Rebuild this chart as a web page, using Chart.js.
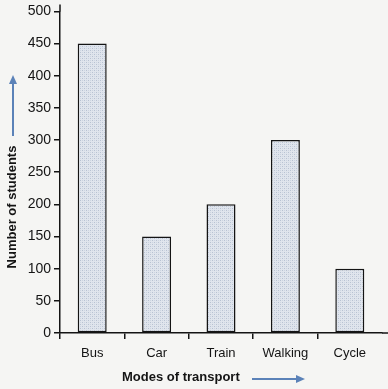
<!DOCTYPE html>
<html><head><meta charset="utf-8">
<script src="https://cdn.jsdelivr.net/npm/chart.js@4"></script>
<style>html,body{margin:0;padding:0;background:#f5f5f3;}#wrap{width:388px;height:389px;}</style>
</head><body><div id="wrap"><canvas id="c" width="388" height="389"></canvas></div>
<script>
const categories = ['Bus', 'Car', 'Train', 'Walking', 'Cycle'];
const students = [450, 150, 200, 300, 100];
const yTicks = [0, 50, 100, 150, 200, 250, 300, 350, 400, 450, 500];
const xTitle = 'Modes of transport';
const yTitle = 'Number of students';

function makePattern() {
  const p = document.createElement('canvas');
  p.width = 4; p.height = 4;
  const g = p.getContext('2d');
  g.fillStyle = '#e0e5ed'; g.fillRect(0, 0, 4, 4);
  g.fillStyle = '#b8c2d2';
  g.fillRect(0, 0, 1, 1); g.fillRect(2, 2, 1, 1);
  g.fillStyle = '#cdd5e1';
  g.fillRect(2, 0, 1, 1); g.fillRect(0, 2, 1, 1);
  return g.createPattern(p, 'repeat');
}

const INK = '#141414';
const BLUE = '#5b82b8';
const FONT = '"Liberation Sans", Arial, sans-serif';

function arrow(ctx, x1, y1, x2, y2) {
  const ang = Math.atan2(y2 - y1, x2 - x1);
  ctx.save();
  ctx.strokeStyle = BLUE; ctx.fillStyle = BLUE; ctx.lineWidth = 2;
  ctx.beginPath(); ctx.moveTo(x1, y1);
  ctx.lineTo(x2 - 6 * Math.cos(ang), y2 - 6 * Math.sin(ang)); ctx.stroke();
  ctx.beginPath(); ctx.moveTo(x2, y2);
  ctx.lineTo(x2 - 9 * Math.cos(ang) + 4 * Math.sin(ang), y2 - 9 * Math.sin(ang) - 4 * Math.cos(ang));
  ctx.lineTo(x2 - 9 * Math.cos(ang) - 4 * Math.sin(ang), y2 - 9 * Math.sin(ang) + 4 * Math.cos(ang));
  ctx.closePath(); ctx.fill();
  ctx.restore();
}

const decor = {
  id: 'decor',
  afterDraw(chart) {
    const ctx = chart.ctx;
    const area = chart.chartArea;
    ctx.save();
    ctx.fillStyle = INK;
    ctx.font = 'bold 13px ' + FONT;
    ctx.textBaseline = 'middle';
    ctx.textAlign = 'left';
    ctx.fillText(xTitle, 122, 377);
    ctx.save();
    ctx.translate(12, 207);
    ctx.rotate(-Math.PI / 2);
    ctx.textAlign = 'center';
    ctx.fillText(yTitle, 0, 0);
    ctx.restore();
    ctx.strokeStyle = INK; ctx.lineWidth = 1.5;
    ctx.beginPath(); ctx.moveTo(area.right, area.bottom); ctx.lineTo(388, area.bottom); ctx.stroke();
    ctx.beginPath(); ctx.moveTo(area.left, area.top); ctx.lineTo(area.left, area.top - 7); ctx.stroke();
    ctx.restore();
    arrow(ctx, 13, 136, 13, 75);
    arrow(ctx, 252, 379, 305, 379);
  }
};

new Chart(document.getElementById('c'), {
  type: 'bar',
  data: {
    labels: categories,
    datasets: [{
      data: students,
      backgroundColor: makePattern(),
      borderColor: INK,
      borderWidth: 1.5,
      borderSkipped: false,
      barPercentage: 0.9,
      categoryPercentage: 0.5
    }]
  },
  options: {
    responsive: false,
    animation: false,
    devicePixelRatio: 1,
    layout: { padding: { top: 4, right: 6, left: 0, bottom: 0 } },
    plugins: { legend: { display: false }, tooltip: { enabled: false } },
    scales: {
      x: {
        offset: true,
        grid: {
          offset: true, drawOnChartArea: false, drawTicks: true, tickLength: 6,
          color: (c) => (c.type !== 'tick' || c.index === 0 ? (c.index === 0 ? INK : 'rgba(0,0,0,0)') : INK), lineWidth: 1.5
        },
        border: { display: true, color: INK, width: 1.5 },
        ticks: { color: INK, font: { family: FONT, size: 13 }, padding: 7, maxRotation: 0 },
        afterFit: (s) => { s.height = 56; }
      },
      y: {
        min: 0, max: 500,
        afterBuildTicks: (s) => { s.ticks = yTicks.map(v => ({ value: v })); },
        grid: { drawOnChartArea: false, drawTicks: true, tickLength: 6, color: INK, lineWidth: 1.5 },
        border: { display: true, color: INK, width: 1.5 },
        ticks: { color: INK, font: { family: FONT, size: 14 }, padding: 3 },
        afterFit: (s) => { s.width = 60; }
      }
    }
  },
  plugins: [decor]
});
</script></body></html>
